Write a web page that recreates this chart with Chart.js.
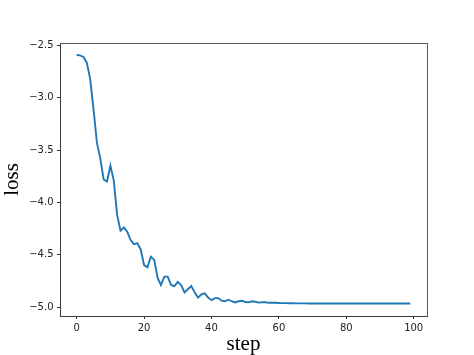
<!DOCTYPE html>
<html>
<head>
<meta charset="utf-8">
<script src="https://cdn.jsdelivr.net/npm/chart.js@4"></script>
<style>
html,body{margin:0;padding:0;background:#fff;}
#wrap{width:474px;height:355px;}
</style>
</head>
<body>
<div id="wrap"><canvas id="c" width="474" height="355"></canvas></div>
<script>
const xTickValues = [0, 20, 40, 60, 80, 100];
const yTickValues = [-5.0, -4.5, -4.0, -3.5, -3.0, -2.5];
const loss = [
  -2.592, -2.595, -2.610, -2.665, -2.820, -3.110, -3.430, -3.580, -3.780, -3.800,
  -3.650, -3.790, -4.120, -4.270, -4.240, -4.280, -4.360, -4.400, -4.390, -4.450,
  -4.600, -4.620, -4.520, -4.550, -4.720, -4.790, -4.710, -4.710, -4.790, -4.800,
  -4.760, -4.790, -4.860, -4.830, -4.800, -4.860, -4.910, -4.880, -4.870, -4.910,
  -4.935, -4.915, -4.915, -4.940, -4.945, -4.930, -4.945, -4.957, -4.945, -4.940,
  -4.952, -4.955, -4.945, -4.950, -4.958, -4.955, -4.955, -4.960, -4.958, -4.960,
  -4.962, -4.963, -4.963, -4.964, -4.964, -4.965, -4.965, -4.965, -4.965, -4.966,
  -4.966, -4.966, -4.966, -4.966, -4.966, -4.967, -4.967, -4.967, -4.967, -4.967,
  -4.967, -4.967, -4.967, -4.967, -4.967, -4.967, -4.967, -4.967, -4.967, -4.967,
  -4.967, -4.967, -4.967, -4.967, -4.967, -4.967, -4.967, -4.967, -4.967, -4.967
];
const steps = loss.map((_, i) => i);
const xLabel = 'step';
const yLabel = 'loss';

const points = steps.map((s, i) => ({x: s, y: loss[i]}));

const frame = {
  id: 'frame',
  afterDraw(chart) {
    const a = chart.chartArea, ctx = chart.ctx;
    ctx.save();
    ctx.strokeStyle = '#333';
    ctx.lineWidth = 0.8;
    ctx.strokeRect(Math.round(a.left) + 0.5, Math.round(a.top) + 0.5,
                   Math.round(a.right - a.left), Math.round(a.bottom - a.top));
    ctx.restore();
  }
};

new Chart(document.getElementById('c'), {
  type: 'line',
  data: {
    datasets: [{
      data: points,
      borderColor: '#1f77b4',
      borderWidth: 1.9,
      pointRadius: 0,
      tension: 0,
      fill: false
    }]
  },
  options: {
    responsive: false,
    animation: false,
    devicePixelRatio: 1,
    layout: {padding: {top: 43, right: 47, left: 0, bottom: 0}},
    plugins: {legend: {display: false}, tooltip: {enabled: false}},
    scales: {
      x: {
        type: 'linear',
        min: -4.95,
        max: 103.95,
        afterBuildTicks: s => { s.ticks = xTickValues.map(v => ({value: v})); },
        afterFit: s => { s.height = 39; },
        grid: {drawOnChartArea: false, drawTicks: true, tickLength: 3, color: '#333', tickColor: '#333'},
        border: {display: true, color: '#333', width: 0.8},
        ticks: {
          padding: 3,
          color: '#222',
          font: {family: 'DejaVu Sans', size: 10},
          maxRotation: 0,
          callback: v => String(v)
        },
        title: {
          display: true,
          text: xLabel,
          color: '#000',
          font: {family: 'Liberation Serif', size: 21, lineHeight: 1.0},
          padding: 0
        }
      },
      y: {
        type: 'linear',
        min: -5.086,
        max: -2.477,
        afterBuildTicks: s => { s.ticks = yTickValues.map(v => ({value: v})); },
        afterFit: s => { s.width = 60; },
        grid: {drawOnChartArea: false, drawTicks: true, tickLength: 3, color: '#333', tickColor: '#333'},
        border: {display: true, color: '#333', width: 0.8},
        ticks: {
          padding: 3.5,
          color: '#222',
          font: {family: 'DejaVu Sans', size: 10},
          callback: v => v.toFixed(1).replace('-', '\u2212')
        },
        title: {
          display: true,
          text: yLabel,
          color: '#000',
          font: {family: 'Liberation Serif', size: 21, lineHeight: 1.0},
          padding: {top: 2, bottom: 0}
        }
      }
    }
  },
  plugins: [frame]
});
</script>
</body>
</html>
